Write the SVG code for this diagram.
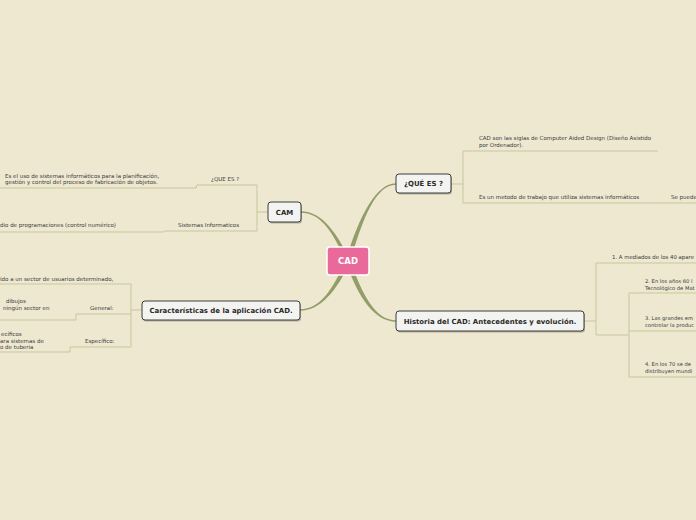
<svg xmlns="http://www.w3.org/2000/svg" width="696" height="520" viewBox="0 0 696 520">
<defs>
<style>
.bg{fill:#eee8d1}
.thin{fill:none;stroke:#c6c79b;stroke-width:1}
.br{fill:#939d68}
.t{font-family:"DejaVu Sans",Verdana,sans-serif;font-size:5.5px;fill:#3a3a3a}
.tr{font-family:"DejaVu Sans",Verdana,sans-serif;font-size:5.2px;fill:#3a3a3a}
.nb{fill:#f3f3f1;stroke:#3c3c3c;stroke-width:1}
.sh{fill:#000;opacity:0.25}
.nt{font-family:"DejaVu Sans",Verdana,sans-serif;font-size:6.95px;font-weight:bold;fill:#2a2a2a;text-anchor:middle}
</style>
</defs>
<rect class="bg" x="0" y="0" width="696" height="520"/>
<g id="connectors">
<path class="br" d="M301,211.3 C320,211.3 335,229 350.5,261 L345.5,261 C333,231 320,212.7 301,212.7 Z"/>
<path class="br" d="M396,183.3 C375,183.3 358,220 345.5,261 L350.5,261 C362,221 375,184.7 396,184.7 Z"/>
<path class="br" d="M300,309.3 C320,309.3 333,289 345.5,261 L350.5,261 C337,291 320,310.7 300,310.7 Z"/>
<path class="br" d="M396,320.3 C375,320.3 362,294 350.5,261 L345.5,261 C358,298 375,321.7 396,321.7 Z"/>
<path class="thin" d="M268,212 H257 M257,185 V231 M257,185 H197 L196,188 H0 M257,231 H165 L163,232 H0"/>
<path class="thin" d="M142,310 H131 M131,284 V347 M131,284 H0 M131,314 H76 V320 H0 M131,347 H70 V352 H0"/>
<path class="thin" d="M451,184 H463 M463,151 V203 M463,151 H658 M463,203 H696"/>
<path class="thin" d="M584,321 H596 M596,263 V335 M596,263 H696 M596,335 H629 M629,293 V377 M629,293 H696 M629,331 H696 M629,377 H696"/>
</g>
<g id="cad">
<rect x="327" y="247" width="42" height="28" rx="3" fill="#e8699a" stroke="#ffffff" stroke-width="1.5"/>
<text x="348" y="264" font-family="DejaVu Sans,Verdana,sans-serif" font-size="8.5" font-weight="bold" fill="#ffffff" text-anchor="middle">CAD</text>
</g>
<g id="cam">
<rect class="sh" x="269" y="203.5" width="33" height="20" rx="3"/>
<rect class="nb" x="268" y="202" width="33" height="20" rx="3"/>
<text class="nt" x="284.5" y="214.5">CAM</text>
<text class="t" x="5" y="177.5">Es el uso de sistemas informáticos para la planificación,</text>
<text class="t" x="5" y="184.3">gestión y control del proceso de fabricación de objetos.</text>
<text class="t" x="211" y="181">¿QUE ES ?</text>
<text class="t" x="0" y="227">dio de programaciones (control numérico)</text>
<text class="t" x="178" y="227">Sistemas Informaticos</text>
</g>
<g id="que-es">
<rect class="sh" x="397" y="175.5" width="55" height="19" rx="3"/>
<rect class="nb" x="396" y="174" width="55" height="19" rx="3"/>
<text class="nt" x="423.5" y="186">¿QUÉ ES ?</text>
<text class="t" x="479" y="139.5">CAD son las siglas de Computer Aided Design (Diseño Asistido</text>
<text class="t" x="479" y="146.5">por Ordenador).</text>
<text class="t" x="479" y="199">Es un metodo de trabajo que utiliza sistemas informáticos</text>
<text class="t" x="671" y="199">Se puede</text>
</g>
<g id="caracteristicas">
<rect class="sh" x="143" y="302.5" width="158" height="19" rx="3"/>
<rect class="nb" x="142" y="301" width="158" height="19" rx="3"/>
<text class="nt" x="221" y="313">Características de la aplicación CAD.</text>
<text class="t" x="0" y="281">ido a un sector de usuarios determinado,</text>
<text class="t" x="6" y="303">dibujos</text>
<text class="t" x="3" y="310">ningún sector en</text>
<text class="t" x="90" y="310">General:</text>
<text class="t" x="1" y="336">ecíficos</text>
<text class="t" x="0" y="342.5">ara sistemas de</text>
<text class="t" x="0" y="349">o de tuberia</text>
<text class="t" x="85" y="343">Específico:</text>
</g>
<g id="historia">
<rect class="sh" x="397" y="312.5" width="188" height="20" rx="3"/>
<rect class="nb" x="396" y="311" width="188" height="20" rx="3"/>
<text class="nt" x="490" y="323.5">Historia del CAD: Antecedentes y evolución.</text>
<text class="t" x="612" y="259" textLength="82" lengthAdjust="spacingAndGlyphs">1. A mediados de los 40 apare</text>
<text class="tr" x="645" y="283">2. En los años 60 l</text>
<text class="tr" x="645" y="289.5">Tecnológico de Mat</text>
<text class="tr" x="645" y="320">3. Las grandes em</text>
<text class="tr" x="645" y="326.5">controlar la produc</text>
<text class="tr" x="645" y="366">4. En los 70 se de</text>
<text class="tr" x="645" y="372.5">distribuyen mundi</text>
</g>
</svg>
